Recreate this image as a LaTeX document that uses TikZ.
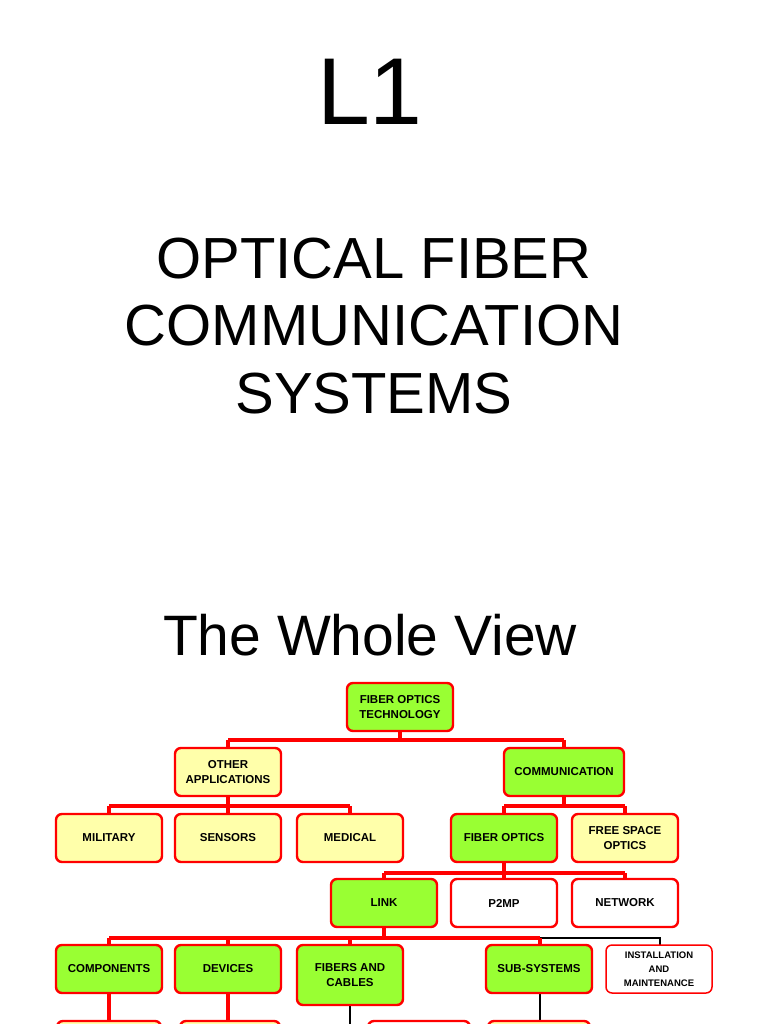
\documentclass[tikz,border=0pt]{standalone}
\usepackage{fontspec}
\setmainfont{Liberation Sans}
\begin{document}
\begin{tikzpicture}[x=1pt,y=-1pt,
 box/.style={draw=red,line width=2.4pt,rounded corners=6pt,align=center,font=\bfseries\fontsize{11.5}{14.5}\selectfont},
 wh/.style={fill=white},
 rl/.style={draw=red,line width=4.5pt},
 bl/.style={draw=black,line width=2.8pt}]
\useasboundingbox (0,0) rectangle (768,1024);
\clip (0,0) rectangle (768,1024);
\definecolor{lg}{RGB}{153,255,51}
\definecolor{ly}{RGB}{255,255,170}
\tikzset{gr/.style={fill=lg},yl/.style={fill=ly}}
\node[font=\fontsize{95}{100}\selectfont] (t1) at (370,92) {L1};
\node[font=\fontsize{58}{67.5}\selectfont,align=center] (t2) at (374,326) {OPTICAL FIBER\\COMMUNICATION\\SYSTEMS};
\node[font=\fontsize{57}{60}\selectfont] (t3) at (370,635) {The Whole View};
\coordinate (b1) at (400,740); \coordinate (b1l) at (228,740); \coordinate (b1r) at (564,740);
\coordinate (b2) at (228,806); \coordinate (b2l) at (109,806); \coordinate (b2r) at (350,806);
\coordinate (b3) at (564,806); \coordinate (b3l) at (504,806); \coordinate (b3r) at (625,806);
\coordinate (b4) at (504,873); \coordinate (b4l) at (384,873); \coordinate (b4r) at (625,873);
\coordinate (b5) at (384,938); \coordinate (b5l) at (109,938); \coordinate (b5m) at (540,938); \coordinate (b5r) at (660,938);
\draw[rl] (b1l) -- (b1r); \draw[rl] (b2l) -- (b2r); \draw[rl] (b3l) -- (b3r);
\draw[rl] (b4l) -- (b4r); \draw[bl] (b5m) -- (b5r) -- ++(0,10); \draw[rl] (b5l) -- (b5m);
\draw[rl] (b1) -- (400,720); \draw[rl] (b1l) -- ++(0,15); \draw[rl] (b1r) -- ++(0,15);
\draw[rl] (b2) -- ++(0,-15); \draw[rl] (b2l) -- ++(0,15); \draw[rl] (b2) -- ++(0,15); \draw[rl] (b2r) -- ++(0,15);
\draw[rl] (b3) -- ++(0,-15); \draw[rl] (b3l) -- ++(0,15); \draw[rl] (b3r) -- ++(0,15);
\draw[rl] (b4) -- ++(0,-15); \draw[rl] (b4l) -- ++(0,15); \draw[rl] (504,873) -- ++(0,15); \draw[rl] (b4r) -- ++(0,15);
\draw[rl] (b5) -- ++(0,-15); \draw[rl] (b5l) -- ++(0,15); \draw[rl] (228,938) -- ++(0,15); \draw[rl] (350,938) -- ++(0,15); \draw[rl] (b5m) -- ++(0,15);
\draw[rl] (109,990) -- (109,1024); \draw[rl] (228,990) -- (228,1024);
\draw[bl] (350,1000) -- (350,1024); \draw[bl] (540,990) -- (540,1024);
\tikzset{sz/.style={minimum width=106pt,minimum height=48pt,inner sep=1pt}}
\node[box,gr,sz] (fot) at (400,707) {FIBER OPTICS\\TECHNOLOGY};
\node[box,yl,sz] (oa) at (228,772) {OTHER\\APPLICATIONS};
\node[box,gr,sz,minimum width=120pt] (com) at (564,772) {COMMUNICATION};
\node[box,yl,sz] (mil) at (109,838) {MILITARY};
\node[box,yl,sz] (sen) at (228,838) {SENSORS};
\node[box,yl,sz] (med) at (350,838) {MEDICAL};
\node[box,gr,sz] (fo) at (504,838) {FIBER OPTICS};
\node[box,yl,sz] (fso) at (625,838) {FREE SPACE\\OPTICS};
\node[box,gr,sz] (link) at (384,903) {LINK};
\node[box,wh,sz] (p2mp) at (504,903) {P2MP};
\node[box,wh,sz] (net) at (625,903) {NETWORK};
\node[box,gr,sz] (cmp) at (109,969) {COMPONENTS};
\node[box,gr,sz] (dev) at (228,969) {DEVICES};
\node[box,gr,sz,minimum height=60pt] (fc) at (350,975) {FIBERS AND\\CABLES};
\node[box,gr,sz] (ss) at (539,969) {SUB-SYSTEMS};
\node[box,wh,sz,line width=1.5pt,font=\bfseries\fontsize{9.5}{14}\selectfont] (inst) at (659,969) {INSTALLATION\\AND\\MAINTENANCE};
\node[box,yl,minimum width=104pt,minimum height=40pt] (c1) at (109,1041) {};
\node[box,yl,minimum width=100pt,minimum height=40pt] (c2) at (230,1041) {};
\node[box,wh,minimum width=102pt,minimum height=40pt] (c3) at (419,1041) {};
\node[box,yl,minimum width=102pt,minimum height=40pt] (c4) at (539,1041) {};
\end{tikzpicture}
\end{document}
